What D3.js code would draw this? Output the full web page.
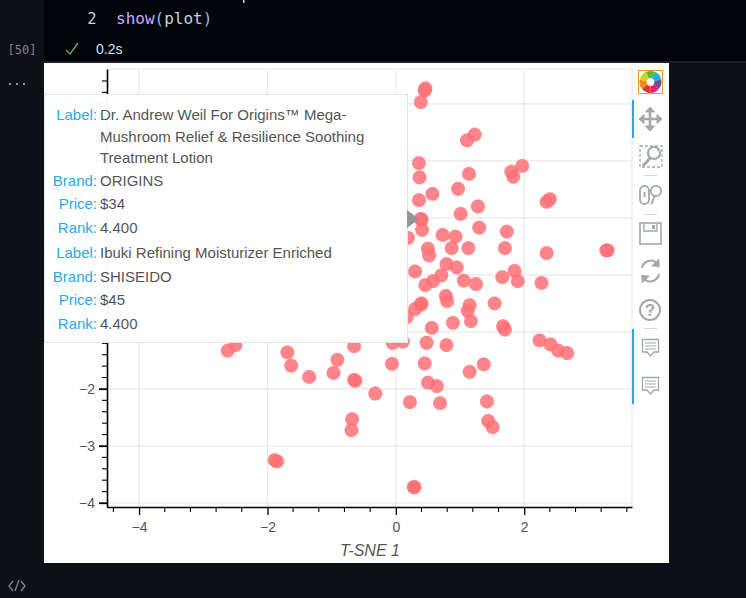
<!DOCTYPE html>
<html><head><meta charset="utf-8">
<script src="https://cdn.jsdelivr.net/npm/d3@7"></script>
<style>
html,body{margin:0;padding:0;background:#0d1117;overflow:hidden}
svg{display:block}
text{font-family:"Liberation Sans",Arial,sans-serif}
text.mono{font-family:"DejaVu Sans Mono",monospace}
</style></head><body>
<svg id="c" width="746" height="598"></svg>
<script>
// Data
const tsne1 = [0.46,0.45,0.39,1.23,1.11,0.36,0.37,1.14,1.97,1.80,1.83,2.40,2.35,0.57,0.97,0.36,1.28,1.01,0.40,0.39,0.41,1.30,1.73,0.73,0.93,0.19,0.50,0.52,0.87,1.13,1.70,2.35,3.28,3.30,0.79,0.95,0.30,0.71,0.58,0.46,1.06,1.25,1.66,1.85,1.90,2.27,0.78,0.80,0.40,0.39,0.30,0.17,1.15,1.12,1.17,1.54,0.89,0.56,1.67,1.70,2.24,2.41,2.53,2.67,0.11,0.48,0.79,0.45,1.37,1.15,0.50,0.64,0.22,0.69,1.42,1.44,1.51,0.28,0.29,-2.62,-2.50,-1.69,-1.63,-1.35,-0.91,-0.97,-0.65,-0.63,-0.65,-0.32,-0.06,-0.05,-0.68,-0.69,-1.89,-1.85];
const tsne2 = [3.27,3.23,3.03,2.46,2.36,1.96,1.71,1.77,1.91,1.81,1.72,1.33,1.28,1.42,1.51,1.31,1.20,1.07,0.97,0.98,0.79,0.83,0.76,0.70,0.67,0.65,0.46,0.34,0.47,0.47,0.47,0.38,0.43,0.43,0.19,0.13,0.06,-0.01,-0.11,-0.18,-0.10,-0.16,-0.04,0.07,-0.11,-0.14,-0.37,-0.46,-0.50,-0.52,-0.60,-0.74,-0.53,-0.63,-0.81,-0.50,-0.84,-0.93,-0.90,-0.96,-1.15,-1.22,-1.33,-1.37,-1.17,-1.19,-1.23,-1.55,-1.57,-1.70,-1.89,-1.95,-2.23,-2.25,-2.22,-2.56,-2.67,-3.72,-3.72,-1.33,-1.23,-1.36,-1.59,-1.79,-1.49,-1.72,-1.84,-1.86,-1.25,-2.08,-1.56,-1.19,-2.53,-2.72,-3.25,-3.27];
const xTicks = [-4,-2,0,2];
const yTicks = [-4,-3,-2,-1,0,1,2,3];
const yTickLabels = [-4,-3,-2];
const xLabel = "T-SNE 1";
const tipLabels = ["Label:","Brand:","Price:","Rank:","Label:","Brand:","Price:","Rank:"];
const tipValues = [["Dr. Andrew Weil For Origins™ Mega-","Mushroom Relief & Resilience Soothing","Treatment Lotion"],["ORIGINS"],["$34"],["4.400"],["Ibuki Refining Moisturizer Enriched"],["SHISEIDO"],["$45"],["4.400"]];
const tipBase = [[120,141.7,163.3],[186],[209.3],[233.3],[258.3],[282],[305],[328.7]];

const svg = d3.select("#c");
svg.append("rect").attr("x",44).attr("width",702).attr("height",63).attr("fill","#010409");
svg.append("rect").attr("x",44).attr("y",61).attr("width",702).attr("height",2).attr("fill","#1b1f27");
svg.append("rect").attr("x",44).attr("y",63).attr("width",625).attr("height",500).attr("fill","#fff");

// notebook chrome
const mono=(x,y,t,f,s,a)=>svg.append("text").attr("class","mono").attr("x",x).attr("y",y).attr("fill",f).attr("font-size",s).attr("text-anchor",a||"start").text(t);
svg.append("rect").attr("x",243).attr("width",1.5).attr("height",3).attr("fill","#c9d1d9");
mono(92,24,"2","#c9d1d9",15.5,"middle");
const code=svg.append("text").attr("class","mono").attr("x",116).attr("y",24).attr("font-size",16);
[["show","#d2a8ff"],["(","#79c0ff"],["plot","#c9d1d9"],[")","#79c0ff"]].forEach(d=>code.append("tspan").attr("fill",d[1]).text(d[0]));
mono(22,54,"[50]","#7d8590",12,"middle");
[10,17,24].forEach(cx=>svg.append("rect").attr("x",cx-1).attr("y",83).attr("width",2).attr("height",2).attr("fill","#8b949e"));
svg.append("path").attr("d","M66 50l4 4 8-11").attr("fill","none").attr("stroke","#56b35a").attr("stroke-width",1.4);
svg.append("text").attr("x",96).attr("y",54).attr("font-size",14).attr("fill","#cfe3f5").text("0.2s");
svg.append("path").attr("d","M13 581l-4 5 4 5M21 581l4 5-4 5M19 580l-4 11").attr("fill","none").attr("stroke","#7d8590").attr("stroke-width",1.3);

// plot
const L=107,R=632,T=69,B=507;
const x=d3.scaleLinear().domain([-4.5,3.68]).range([L,R]);
const y=d3.scaleLinear().domain([-4.07,3.61]).range([B,T]);
const grid=svg.append("g").attr("stroke","#e8e8e8").attr("stroke-width",1.2);
grid.selectAll(".v").data(xTicks).join("line").attr("class","v").attr("x1",d=>x(d)).attr("x2",d=>x(d)).attr("y1",T).attr("y2",B);
grid.selectAll(".h").data(yTicks).join("line").attr("class","h").attr("x1",L).attr("x2",R).attr("y1",d=>y(d)).attr("y2",d=>y(d));
svg.append("path").attr("d",`M${L} ${T}H${R}V${B}`).attr("fill","none").attr("stroke","#eee").attr("stroke-width",1.5);

svg.append("g").selectAll("circle").data(tsne1).join("circle")
 .attr("cx",d=>x(d)).attr("cy",(d,i)=>y(tsne2[i])).attr("r",6.9)
 .attr("fill","#ff7075").attr("fill-opacity",.85).attr("stroke","#ff7075").attr("stroke-opacity",.25).attr("stroke-width",.8);

const style=(g)=>{g.select(".domain").attr("stroke","#000").attr("stroke-width",1.6);
 g.selectAll(".tick line").attr("stroke","#000").attr("stroke-width",1.3);
 g.selectAll("text").attr("fill","#555").attr("font-size",14).attr("font-family","Liberation Sans");};
const xMinor=d3.range(-4.4,3.68,0.4).filter(v=>!xTicks.some(t=>Math.abs(t-v)<1e-6));
const yMinor=d3.range(-4,3.5,0.2).filter(v=>!yTicks.some(t=>Math.abs(t-v)<1e-6));
const gx=svg.append("g").attr("transform",`translate(0,${B})`).call(d3.axisBottom(x).tickValues(xTicks).tickSize(8).tickPadding(7).tickSizeOuter(0).tickFormat(d3.format("d")));
style(gx);
gx.selectAll(".mn").data(xMinor).join("line").attr("class","mn").attr("x1",d=>x(d)).attr("x2",d=>x(d)).attr("y1",0).attr("y2",5).attr("stroke","#000").attr("stroke-width",1.1);
const gy=svg.append("g").attr("transform",`translate(${L},0)`).call(d3.axisLeft(y).tickValues(yTickLabels).tickSize(8).tickPadding(4).tickSizeOuter(0).tickFormat(d3.format("d")));
style(gy);
gy.selectAll(".mj").data(yTicks).join("line").attr("class","mj").attr("y1",d=>y(d)).attr("y2",d=>y(d)).attr("x1",0).attr("x2",-8).attr("stroke","#000").attr("stroke-width",1.3);
gy.selectAll(".mn").data(yMinor).join("line").attr("class","mn").attr("y1",d=>y(d)).attr("y2",d=>y(d)).attr("x1",0).attr("x2",-5).attr("stroke","#000").attr("stroke-width",1.1);
svg.append("text").attr("x",370).attr("y",556).attr("text-anchor","middle").attr("font-size",16).attr("font-style","italic").attr("fill","#555").text(xLabel);

// toolbar
const tb=svg.append("g");
const g="#a3a8ab";
tb.append("rect").attr("x",632).attr("y",100).attr("width",2).attr("height",38).attr("fill","#26aae1");
tb.append("rect").attr("x",632).attr("y",329).attr("width",2).attr("height",75).attr("fill","#26aae1");
tb.append("rect").attr("x",638.5).attr("y",70.5).attr("width",24).attr("height",23).attr("fill","#fff").attr("stroke","#e39a2b");
const ring=d3.arc().innerRadius(4).outerRadius(11);
["#58b947","#26aae1","#6a4ea0","#ec1c7b","#e5342b","#f08a1d","#c8d62b"].forEach((c,i)=>{
 tb.append("path").attr("transform","translate(650.5,82)").attr("fill",c)
  .attr("d",ring({startAngle:(i-.5)*2*Math.PI/7,endAngle:(i+.5)*2*Math.PI/7}));});
const ic=(d,sw,fill)=>tb.append("path").attr("d",d).attr("fill",fill||"none").attr("stroke",g).attr("stroke-width",sw||2);
ic("M650 108v22M640 119h21",2.6);
ic("M650 107l-4.5 5h9zM650 131l-4.5-5h9zM639 119l5-4.5v9zM662 119l-5-4.5v9z",1,g);
tb.append("rect").attr("x",640).attr("y",146).attr("width",22).attr("height",21).attr("fill","none").attr("stroke",g).attr("stroke-width",1.3).attr("stroke-dasharray","3 2");
tb.append("circle").attr("cx",654).attr("cy",153).attr("r",6).attr("fill","#fff").attr("stroke",g).attr("stroke-width",2.2);
ic("M650 158l-7 8",3);
const sep=(yy)=>tb.append("line").attr("x1",644).attr("x2",657).attr("y1",yy).attr("y2",yy).attr("stroke","#d5d5d5");
sep(175.5);
tb.append("rect").attr("x",640).attr("y",186).attr("width",9).attr("height",18).attr("rx",4.5).attr("fill","none").attr("stroke",g).attr("stroke-width",1.8);
ic("M644.5 192v5",2);
tb.append("circle").attr("cx",656).attr("cy",191).attr("r",5.2).attr("fill","none").attr("stroke",g).attr("stroke-width",1.8);
ic("M654.5 196l-3 8",2);
sep(214.5);
tb.append("rect").attr("x",640).attr("y",223).attr("width",21).attr("height",21).attr("fill","none").attr("stroke",g).attr("stroke-width",1.6);
ic("M644 223v8h13v-8",1.4);
tb.append("rect").attr("x",652).attr("y",225).attr("width",3).attr("height",4).attr("fill",g);
ic("M642 268a9 9 0 0 1 15-5M659 274a9 9 0 0 1-15 5",2.2);
ic("M659 259l.5 8-8-1zM642 283l-.5-8 8 1z",.5,g);
tb.append("circle").attr("cx",650).attr("cy",310).attr("r",10).attr("fill","none").attr("stroke",g).attr("stroke-width",2);
tb.append("text").attr("x",650).attr("y",316).attr("text-anchor","middle").attr("font-size",17).attr("font-weight","bold").attr("fill",g).text("?");
sep(328.5);
[339,377].forEach(t=>{
 ic(`M642.5 ${t+.5}h16v12.5h-4.5l-3.5 4-3.5-4h-4.5z`,1.3);
 ic(`M645 ${t+4}h11M645 ${t+7}h11M645 ${t+10}h11`,1.2);
});

// tooltip
const tip=svg.append("g");
tip.append("rect").attr("x",44.5).attr("y",94.5).attr("width",363).attr("height",248).attr("fill","#fff").attr("fill-opacity",.97).attr("stroke","#e5e5e5");
tip.append("path").attr("d","M407 210L419 219L407 228Z").attr("fill","#919699");
tipLabels.forEach((l,i)=>{
 tip.append("text").attr("x",97).attr("y",tipBase[i][0]).attr("text-anchor","end").attr("font-size",15).attr("fill","#26aae1").text(l);
 tipValues[i].forEach((v,j)=>tip.append("text").attr("x",100).attr("y",tipBase[i][j]).attr("font-size",15).attr("fill","#555").text(v));
});
</script>
</body></html>
